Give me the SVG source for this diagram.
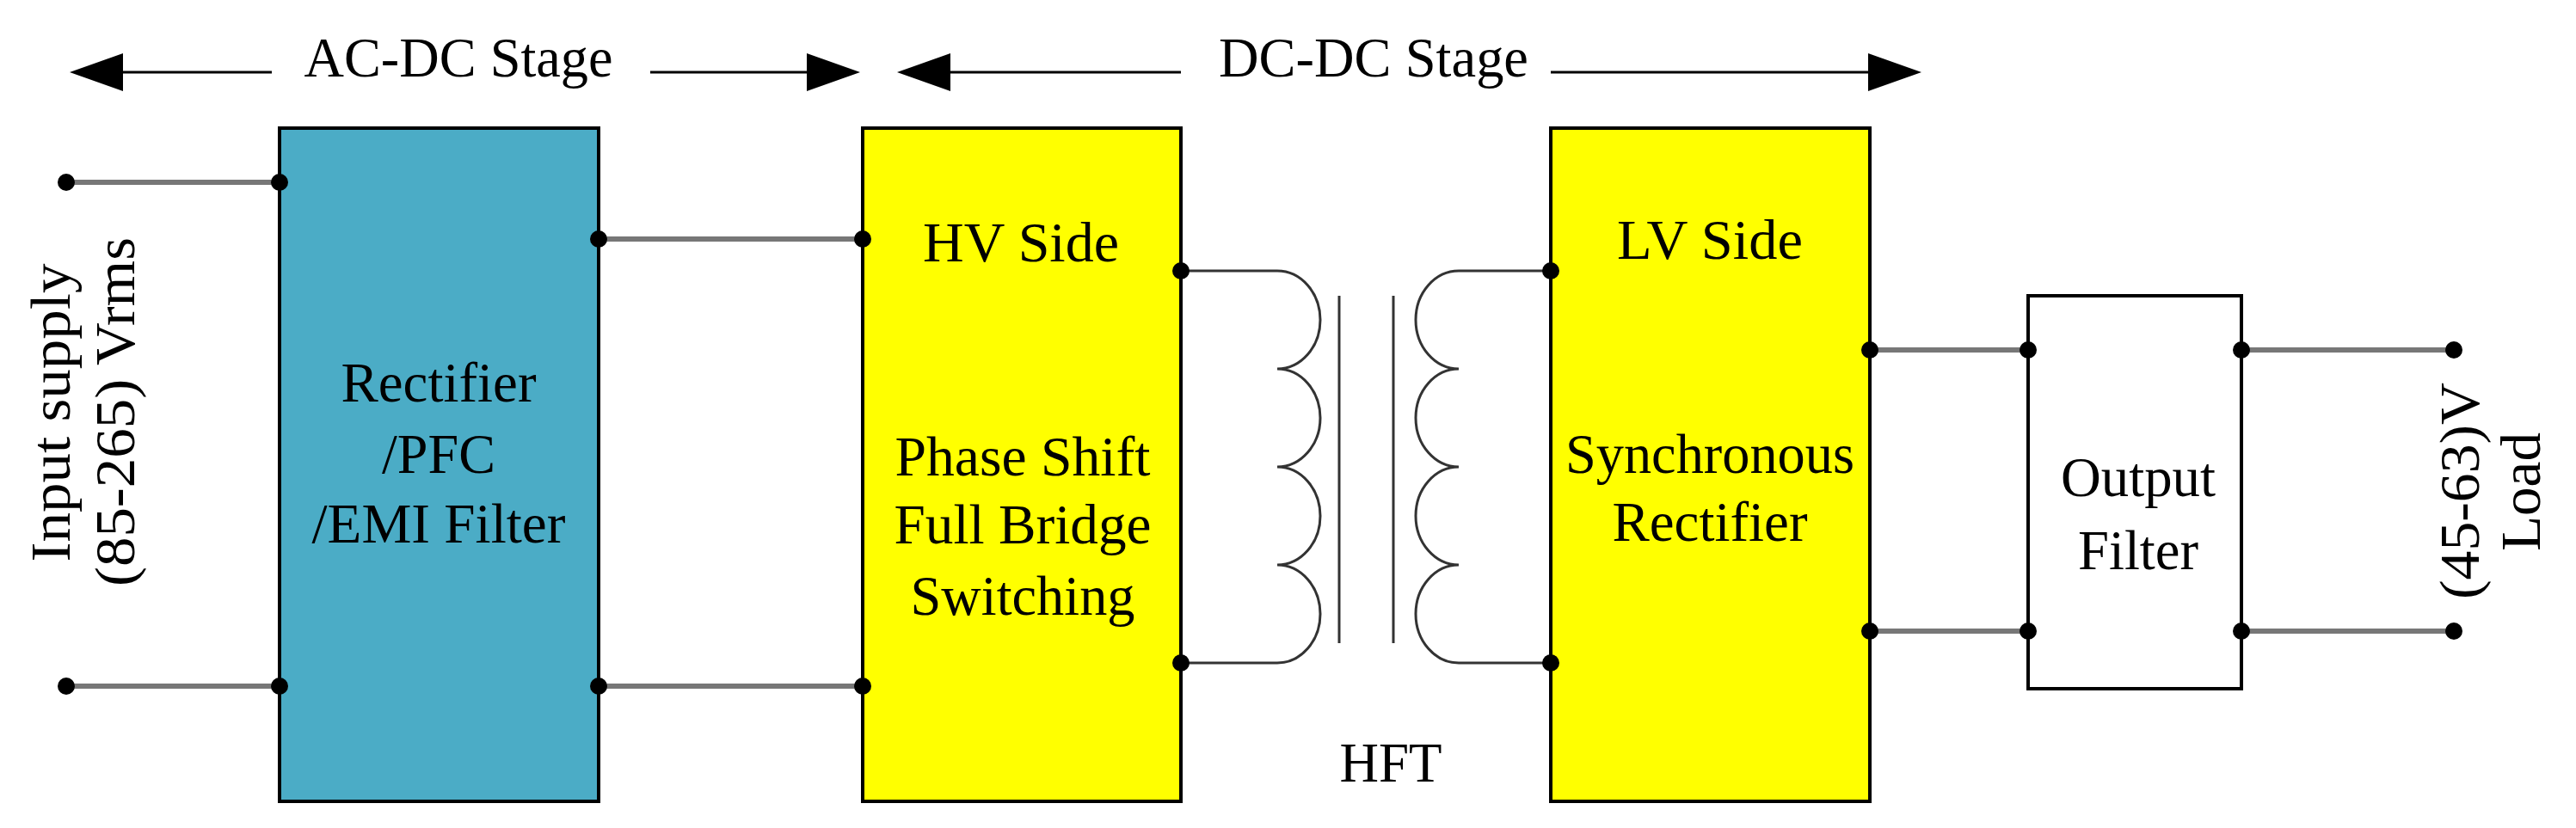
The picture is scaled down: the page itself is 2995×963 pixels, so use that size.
<svg xmlns="http://www.w3.org/2000/svg" width="2995" height="963" viewBox="0 0 2995 963">
<style>
text{font-family:"Liberation Serif","Times New Roman",serif;fill:#000}
.t{font-size:66px;text-anchor:middle}
.v{font-size:66px;text-anchor:middle}
.w{stroke:#777;stroke-width:6;fill:none}
.c{stroke:#333;stroke-width:3;fill:none}
.d{fill:#000}
.box{stroke:#000;stroke-width:4}
.ar{stroke:#000;stroke-width:3}
</style>
<rect width="2995" height="963" fill="#fff"/>
<g id="stage-arrows">
<line class="ar" x1="120" y1="84" x2="316" y2="84"/><polygon points="81,84 143,62 143,106"/>
<line class="ar" x1="756" y1="84" x2="960" y2="84"/><polygon points="1000,84 938,62 938,106"/>
<line class="ar" x1="1080" y1="84" x2="1373" y2="84"/><polygon points="1043,84 1105,62 1105,106"/>
<line class="ar" x1="1803" y1="84" x2="2195" y2="84"/><polygon points="2234,84 2172,62 2172,106"/>
<text class="t" x="533" y="89" textLength="359" lengthAdjust="spacingAndGlyphs">AC-DC Stage</text>
<text class="t" x="1597" y="89" textLength="360" lengthAdjust="spacingAndGlyphs">DC-DC Stage</text>
</g>
<g id="connectors">
<line class="w" x1="77" y1="212" x2="325" y2="212"/>
<line class="w" x1="77" y1="798" x2="325" y2="798"/>
<line class="w" x1="696" y1="278" x2="1003" y2="278"/>
<line class="w" x1="696" y1="798" x2="1003" y2="798"/>
<line class="w" x1="2174" y1="407" x2="2358" y2="407"/>
<line class="w" x1="2174" y1="734" x2="2358" y2="734"/>
<line class="w" x1="2606" y1="407" x2="2853" y2="407"/>
<line class="w" x1="2606" y1="734" x2="2853" y2="734"/>
</g>
<g id="rectifier"><rect class="box" x="325" y="149" width="371" height="783" fill="#4bacc6"/>
<text class="t" x="510" y="467" textLength="227" lengthAdjust="spacingAndGlyphs">Rectifier</text>
<text class="t" x="510" y="550" textLength="132" lengthAdjust="spacingAndGlyphs">/PFC</text>
<text class="t" x="510" y="631" textLength="295" lengthAdjust="spacingAndGlyphs">/EMI Filter</text></g>
<g id="hv"><rect class="box" x="1003" y="149" width="370" height="783" fill="#ffff00"/>
<text class="t" x="1187" y="304" textLength="228" lengthAdjust="spacingAndGlyphs">HV Side</text>
<text class="t" x="1189" y="553" textLength="297" lengthAdjust="spacingAndGlyphs">Phase Shift</text>
<text class="t" x="1189" y="632" textLength="299" lengthAdjust="spacingAndGlyphs">Full Bridge</text>
<text class="t" x="1189" y="715" textLength="261" lengthAdjust="spacingAndGlyphs">Switching</text></g>
<g id="hft">
<path class="c" d="M1373,315 H1485 A50,57 0 0 1 1485,429 A50,57 0 0 1 1485,543 A50,57 0 0 1 1485,657 A50,57 0 0 1 1485,771 H1373"/>
<path class="c" d="M1803,315 H1696 A50,57 0 0 0 1696,429 A50,57 0 0 0 1696,543 A50,57 0 0 0 1696,657 A50,57 0 0 0 1696,771 H1803"/>
<line class="c" x1="1557" y1="344" x2="1557" y2="748"/>
<line class="c" x1="1620" y1="344" x2="1620" y2="748"/>
<text class="t" x="1617" y="909" textLength="119" lengthAdjust="spacingAndGlyphs">HFT</text></g>
<g id="lv"><rect class="box" x="1803" y="149" width="371" height="783" fill="#ffff00"/>
<text class="t" x="1988" y="301" textLength="216" lengthAdjust="spacingAndGlyphs">LV Side</text>
<text class="t" x="1988" y="550" textLength="336" lengthAdjust="spacingAndGlyphs">Synchronous</text>
<text class="t" x="1988" y="629" textLength="227" lengthAdjust="spacingAndGlyphs">Rectifier</text></g>
<g id="output-filter"><rect class="box" x="2358" y="344" width="248" height="457" fill="#fff"/>
<text class="t" x="2486" y="577" textLength="180" lengthAdjust="spacingAndGlyphs">Output</text>
<text class="t" x="2486" y="662" textLength="140" lengthAdjust="spacingAndGlyphs">Filter</text></g>
<g id="input"><text class="v" transform="translate(81,480) rotate(-90)" textLength="347" lengthAdjust="spacingAndGlyphs">Input supply</text>
<text class="v" transform="translate(156,479) rotate(-90)" textLength="406" lengthAdjust="spacingAndGlyphs">(85-265) Vrms</text></g>
<g id="load"><text class="v" transform="translate(2882,571) rotate(-90)" textLength="252" lengthAdjust="spacingAndGlyphs">(45-63)V</text>
<text class="v" transform="translate(2953,572) rotate(-90)" textLength="138" lengthAdjust="spacingAndGlyphs">Load</text></g>
<g id="dots">
<ellipse class="d" cx="77" cy="212" rx="10" ry="10"/><ellipse class="d" cx="77" cy="798" rx="10" ry="10"/>
<ellipse class="d" cx="325" cy="212" rx="10" ry="10"/><ellipse class="d" cx="325" cy="798" rx="10" ry="10"/>
<ellipse class="d" cx="696" cy="278" rx="10" ry="10"/><ellipse class="d" cx="696" cy="798" rx="10" ry="10"/>
<ellipse class="d" cx="1003" cy="278" rx="10" ry="10"/><ellipse class="d" cx="1003" cy="798" rx="10" ry="10"/>
<ellipse class="d" cx="1373" cy="315" rx="10" ry="10"/><ellipse class="d" cx="1373" cy="771" rx="10" ry="10"/>
<ellipse class="d" cx="1803" cy="315" rx="10" ry="10"/><ellipse class="d" cx="1803" cy="771" rx="10" ry="10"/>
<ellipse class="d" cx="2174" cy="407" rx="10" ry="10"/><ellipse class="d" cx="2174" cy="734" rx="10" ry="10"/>
<ellipse class="d" cx="2358" cy="407" rx="10" ry="10"/><ellipse class="d" cx="2358" cy="734" rx="10" ry="10"/>
<ellipse class="d" cx="2606" cy="407" rx="10" ry="10"/><ellipse class="d" cx="2606" cy="734" rx="10" ry="10"/>
<ellipse class="d" cx="2853" cy="407" rx="10" ry="10"/><ellipse class="d" cx="2853" cy="734" rx="10" ry="10"/>
</g>
</svg>
